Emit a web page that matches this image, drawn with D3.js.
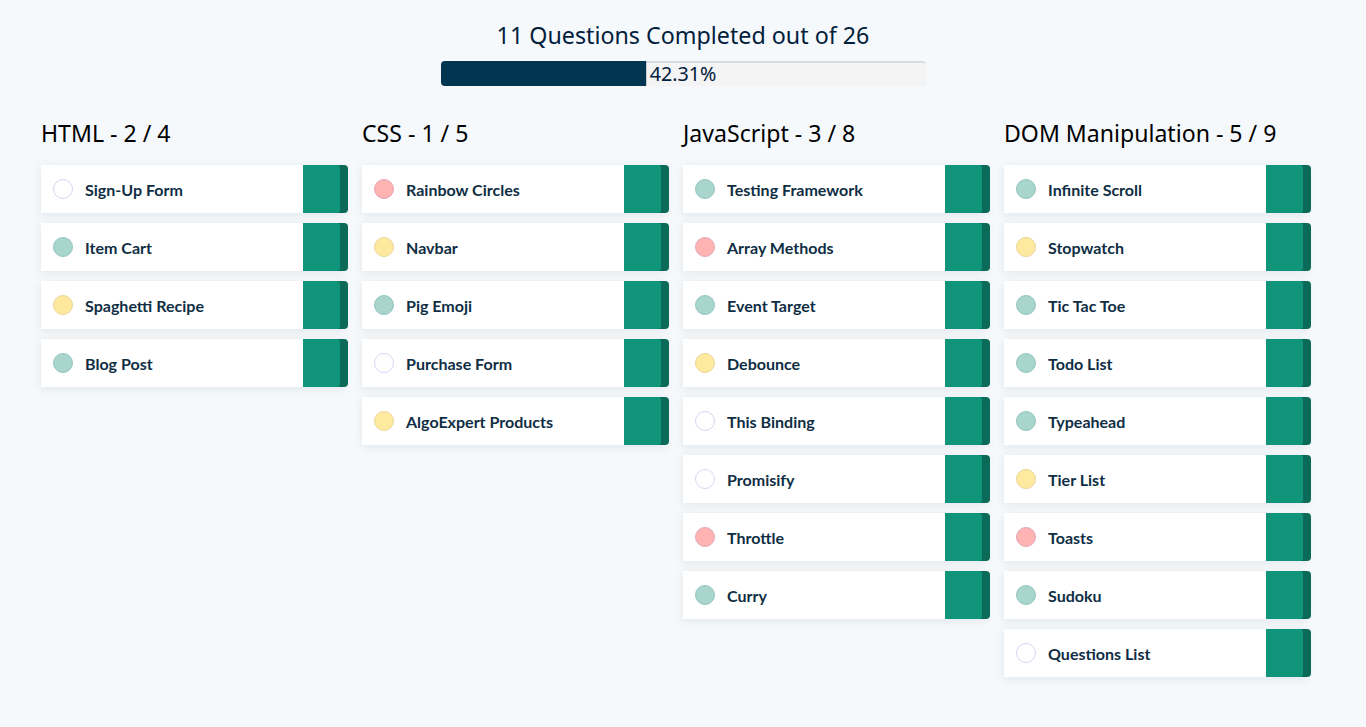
<!DOCTYPE html>
<html>
<head>
<meta charset="utf-8">
<title>Questions</title>
<script src="https://cdnjs.cloudflare.com/ajax/libs/d3/7.8.5/d3.min.js"></script>
<style>
  html, body { margin: 0; padding: 0; background: #f5f9fc; overflow: hidden; }
  .head { font-family: "Noto Sans", "Open Sans", sans-serif; }
  .item { font-family: Lato, sans-serif; font-weight: 700; font-size: 16.05px; fill: #0f2e44; }
</style>
</head>
<body>
<div id="chart"></div>
<script>
// status codes: 0 = not started, 1 = completed, 2 = in progress, 3 = stuck
var categories = ["HTML", "CSS", "JavaScript", "DOM Manipulation"];
var htmlNames = ["Sign-Up Form", "Item Cart", "Spaghetti Recipe", "Blog Post"];
var htmlStatus = [0, 1, 2, 1];
var cssNames = ["Rainbow Circles", "Navbar", "Pig Emoji", "Purchase Form", "AlgoExpert Products"];
var cssStatus = [3, 2, 1, 0, 2];
var jsNames = ["Testing Framework", "Array Methods", "Event Target", "Debounce", "This Binding", "Promisify", "Throttle", "Curry"];
var jsStatus = [1, 3, 1, 2, 0, 0, 3, 1];
var domNames = ["Infinite Scroll", "Stopwatch", "Tic Tac Toe", "Todo List", "Typeahead", "Tier List", "Toasts", "Sudoku", "Questions List"];
var domStatus = [1, 2, 1, 1, 1, 2, 3, 1, 0];
var completed = 11;
var total = 26;

var names = [htmlNames, cssNames, jsNames, domNames];
var statuses = [htmlStatus, cssStatus, jsStatus, domStatus];

var width = 1366, height = 727;
var cardWidth = 307, cardHeight = 48;

var fillColor = d3.scaleOrdinal().domain([0, 1, 2, 3]).range(["#ffffff", "#a8d5cc", "#ffe99f", "#ffb3b3"]);
var strokeColor = d3.scaleOrdinal().domain([0, 1, 2, 3]).range(["#d6d6f5", "#93c4c4", "#e8d59a", "#e0a8b8"]);

var svg = d3.select("#chart").append("svg")
    .attr("width", width)
    .attr("height", height)
    .style("display", "block");

var shadow = svg.append("defs").append("filter")
    .attr("id", "shadow")
    .attr("x", "-5%").attr("y", "-30%")
    .attr("width", "110%").attr("height", "170%");
shadow.append("feDropShadow")
    .attr("dx", 0).attr("dy", 2)
    .attr("stdDeviation", 4)
    .attr("flood-color", "#12293c")
    .attr("flood-opacity", 0.08);

// scales
var x = d3.scaleLinear().domain([0, 3]).range([41, 1004]);
var y = d3.scaleLinear().domain([0, 8]).range([165, 629]);
var pct = d3.scaleLinear().domain([0, 100]).range([441, 926]);

// progress header
var ratio = completed / total * 100;

svg.append("text")
    .attr("class", "head")
    .attr("x", width / 2)
    .attr("y", 44)
    .attr("text-anchor", "middle")
    .attr("font-size", 23.25)
    .attr("fill", "#02203c")
    .text(completed + " Questions Completed out of " + total);

// gray rect peeks out above the light one as the inset top edge
svg.append("rect")
    .attr("x", pct(0)).attr("y", 61)
    .attr("width", pct(100) - pct(0)).attr("height", 25)
    .attr("rx", 4)
    .attr("fill", "#dcdcdc");

svg.append("rect")
    .attr("x", pct(0)).attr("y", 63)
    .attr("width", pct(100) - pct(0)).attr("height", 23)
    .attr("rx", 3)
    .attr("fill", "#f4f4f4");

svg.append("path")
    .attr("d", "M" + pct(ratio) + ",61 H" + (pct(0) + 4) + " a4,4 0 0 0 -4,4 V82 a4,4 0 0 0 4,4 H" + pct(ratio) + " z")
    .attr("fill", "#02354f");

svg.append("text")
    .attr("class", "head")
    .attr("x", pct(ratio) + 3.5)
    .attr("y", 81)
    .attr("font-size", 19.7)
    .attr("fill", "#02203c")
    .text(ratio.toFixed(2) + "%");

// one column per category
var columns = svg.selectAll("g.column")
    .data(categories)
    .join("g")
    .attr("class", "column")
    .attr("transform", function(d, i) { return "translate(" + x(i) + ",0)"; });

columns.append("text")
    .attr("class", "head")
    .attr("x", 0)
    .attr("y", 142)
    .attr("font-size", 23.1)
    .attr("fill", "#000000")
    .text(function(d, i) {
        var done = statuses[i].filter(function(s) { return s === 1; }).length;
        return d + " - " + done + " / " + names[i].length;
    });

var cards = columns.selectAll("g.card")
    .data(function(d, i) {
        return names[i].map(function(name, j) {
            return { name: name, status: statuses[i][j], row: j };
        });
    })
    .join("g")
    .attr("class", "card")
    .attr("transform", function(d) { return "translate(0," + y(d.row) + ")"; });

// card body, dark end first so the teal sits over it
cards.append("rect")
    .attr("width", cardWidth - 4).attr("height", cardHeight)
    .attr("fill", "#ffffff")
    .attr("filter", "url(#shadow)");

cards.append("rect")
    .attr("x", cardWidth - 30).attr("width", 30).attr("height", cardHeight)
    .attr("rx", 4)
    .attr("fill", "#0c6b58");

cards.append("path")
    .attr("d", "M262,0 H296 a3,3 0 0 1 3,3 V" + (cardHeight - 3) + " a3,3 0 0 1 -3,3 H262 z")
    .attr("fill", "#10957b");

cards.append("circle")
    .attr("cx", 22).attr("cy", cardHeight / 2).attr("r", 9.5)
    .attr("fill", function(d) { return fillColor(d.status); })
    .attr("stroke", function(d) { return strokeColor(d.status); })
    .attr("stroke-width", 1);

cards.append("text")
    .attr("class", "item")
    .attr("x", 44)
    .attr("y", cardHeight / 2 + 6.6)
    .text(function(d) { return d.name; });
</script>
</body>
</html>
